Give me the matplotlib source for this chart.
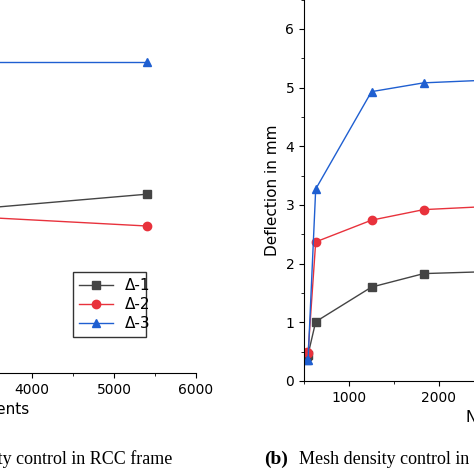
import matplotlib.pyplot as plt
from matplotlib.ticker import MultipleLocator

# left panel (a), partially visible
xa = [2500, 5400]
a1 = [2.64, 2.98]
a2 = [2.66, 2.45]
a3 = [5.18, 5.18]

# right panel (b), partially visible
xb = [530, 545, 630, 1250, 1830, 2900]
b1 = [0.42, 0.45, 1.01, 1.60, 1.83, 1.88]
b2 = [0.50, 0.48, 2.37, 2.74, 2.92, 3.00]
b3 = [0.35, 0.35, 3.27, 4.93, 5.08, 5.15]

labels = ['Δ-1', 'Δ-2', 'Δ-3']
colors = ['#444444', '#e8323c', '#1f5fd1']
markers = ['s', 'o', '^']

W = 474.0
fig = plt.figure(figsize=(4.74, 4.74), dpi=100)

axa = fig.add_axes([0, 1 - 373 / W, 196 / W, 373 / W])
for ys, c, m, l in zip([a1, a2, a3], colors, markers, labels):
    axa.plot(xa, ys, color=c, marker=m, markersize=6, lw=1, label=l)
axa.set_xlim(3610, 6000)
axa.set_ylim(0, 373 / 60)
axa.spines[['top', 'right', 'left']].set_visible(False)
axa.set_yticks([])
axa.set_xticks([4000, 5000, 6000])
axa.xaxis.set_minor_locator(MultipleLocator(500))
axa.tick_params(axis='x', direction='out', labelsize=10)
axa.legend(loc='lower left', bbox_to_anchor=(73 / 196, 36 / 373, 73 / 196, 65 / 373),
           mode='expand', frameon=True, fancybox=False, edgecolor='black',
           fontsize=11, handlelength=2.2, borderaxespad=0, labelspacing=0.25)
axa.set_xlabel('Number of elements', fontsize=11, x=29 / 196, ha='right')

axb = fig.add_axes([304 / W, 1 - 381 / W, 225 / W, 381.5 / W])
for ys, c, m, l in zip([b1, b2, b3], colors, markers, labels):
    axb.plot(xb, ys, color=c, marker=m, markersize=6, lw=1, label=l)
axb.set_xlim(500, 3000)
axb.set_ylim(0, 6.5)
axb.spines[['top', 'right']].set_visible(False)
axb.xaxis.set_major_locator(MultipleLocator(1000))
axb.xaxis.set_minor_locator(MultipleLocator(500))
axb.yaxis.set_major_locator(MultipleLocator(1))
axb.yaxis.set_minor_locator(MultipleLocator(0.5))
axb.tick_params(direction='out', labelsize=10)
axb.set_ylabel('Deflection in mm', fontsize=11)
axb.set_xlabel('Number of elements', fontsize=11, x=(466 - 304) / 225, ha='left')

fig.text(172 / W, 0.022, 'Mesh density control in RCC frame', fontsize=13,
         family='Liberation Serif', ha='right')
fig.text(264 / W, 0.022, '(b)', fontsize=14, family='Liberation Serif',
         weight='bold')
fig.text(299 / W, 0.022, 'Mesh density control in RCC frame', fontsize=13,
         family='Liberation Serif')

fig.savefig('out.png', dpi=100)
